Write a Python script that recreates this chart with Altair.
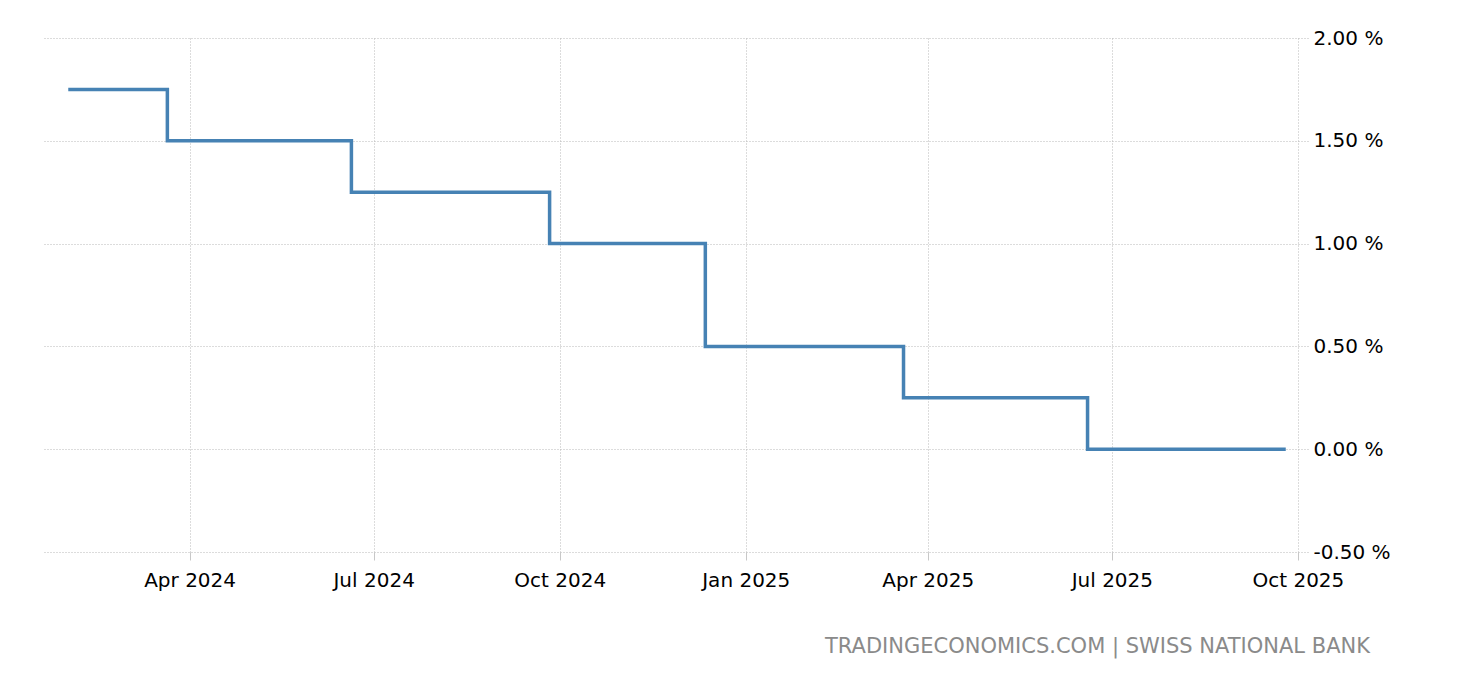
import altair as alt
import pandas as pd

# Swiss National Bank policy rate (step changes)
dates = ["2024-02-01", "2024-03-21", "2024-06-20", "2024-09-26",
         "2024-12-12", "2025-03-20", "2025-06-19", "2025-09-25"]
rates = [1.75, 1.50, 1.25, 1.00, 0.50, 0.25, 0.00, 0.00]

x_tick_dates = [(2024, 4, 1), (2024, 7, 1), (2024, 10, 1), (2025, 1, 1),
                (2025, 4, 1), (2025, 7, 1), (2025, 10, 1)]
y_ticks = [-0.5, 0.0, 0.5, 1.0, 1.5, 2.0]
x_domain = [(2024, 1, 20), (2025, 10, 6)]
y_domain = [-0.5, 2.0]
source_text = "TRADINGECONOMICS.COM | SWISS NATIONAL BANK"

df = pd.DataFrame({"date": dates, "rate": rates})


def dt(t):
    return alt.DateTime(year=t[0], month=t[1], date=t[2], utc=True)


FONT = "DejaVu Sans"
GRID = "#b8b8b8"

chart = alt.Chart(df).mark_line(
    interpolate="step-after", color="#4682b4", strokeWidth=3.5
).encode(
    x=alt.X(
        "date:T",
        scale=alt.Scale(type="utc", domain=[dt(t) for t in x_domain]),
        axis=alt.Axis(
            values=[dt(t) for t in x_tick_dates],
            labelExpr="utcFormat(datum.value, '%b %Y')",
            grid=True,
            gridDash=[1, 2],
            gridColor=GRID,
            domain=False,
            tickColor="#c8c8c8",
            tickSize=8,
            labelPadding=10,
            labelFontSize=20,
            labelFont=FONT,
            labelColor="#000000",
            title=None,
        ),
    ),
    y=alt.Y(
        "rate:Q",
        scale=alt.Scale(domain=y_domain),
        axis=alt.Axis(
            orient="right",
            values=y_ticks,
            labelExpr="(datum.value < 0 ? '-' : '') + format(abs(datum.value), '.2f') + ' %'",
            grid=True,
            gridDash=[1, 2],
            gridColor=GRID,
            domain=False,
            ticks=False,
            labelPadding=5,
            labelFontSize=20,
            labelFont=FONT,
            labelColor="#000000",
            labelBaseline="middle",
            title=None,
        ),
    ),
).properties(
    width=1264,
    height=514,
    autosize=alt.AutoSizeParams(type="none"),
    padding={"left": 36, "top": 30, "right": 130, "bottom": 120},
    title=alt.TitleParams(
        text=source_text,
        orient="bottom",
        anchor="end",
        frame="group",
        dx=62,
        offset=46,
        fontSize=21,
        font=FONT,
        fontWeight="normal",
        color="#8a8a8a",
    ),
).configure_view(stroke=None)

chart.save("out.html", embed_options={"renderer": "svg", "actions": False})
